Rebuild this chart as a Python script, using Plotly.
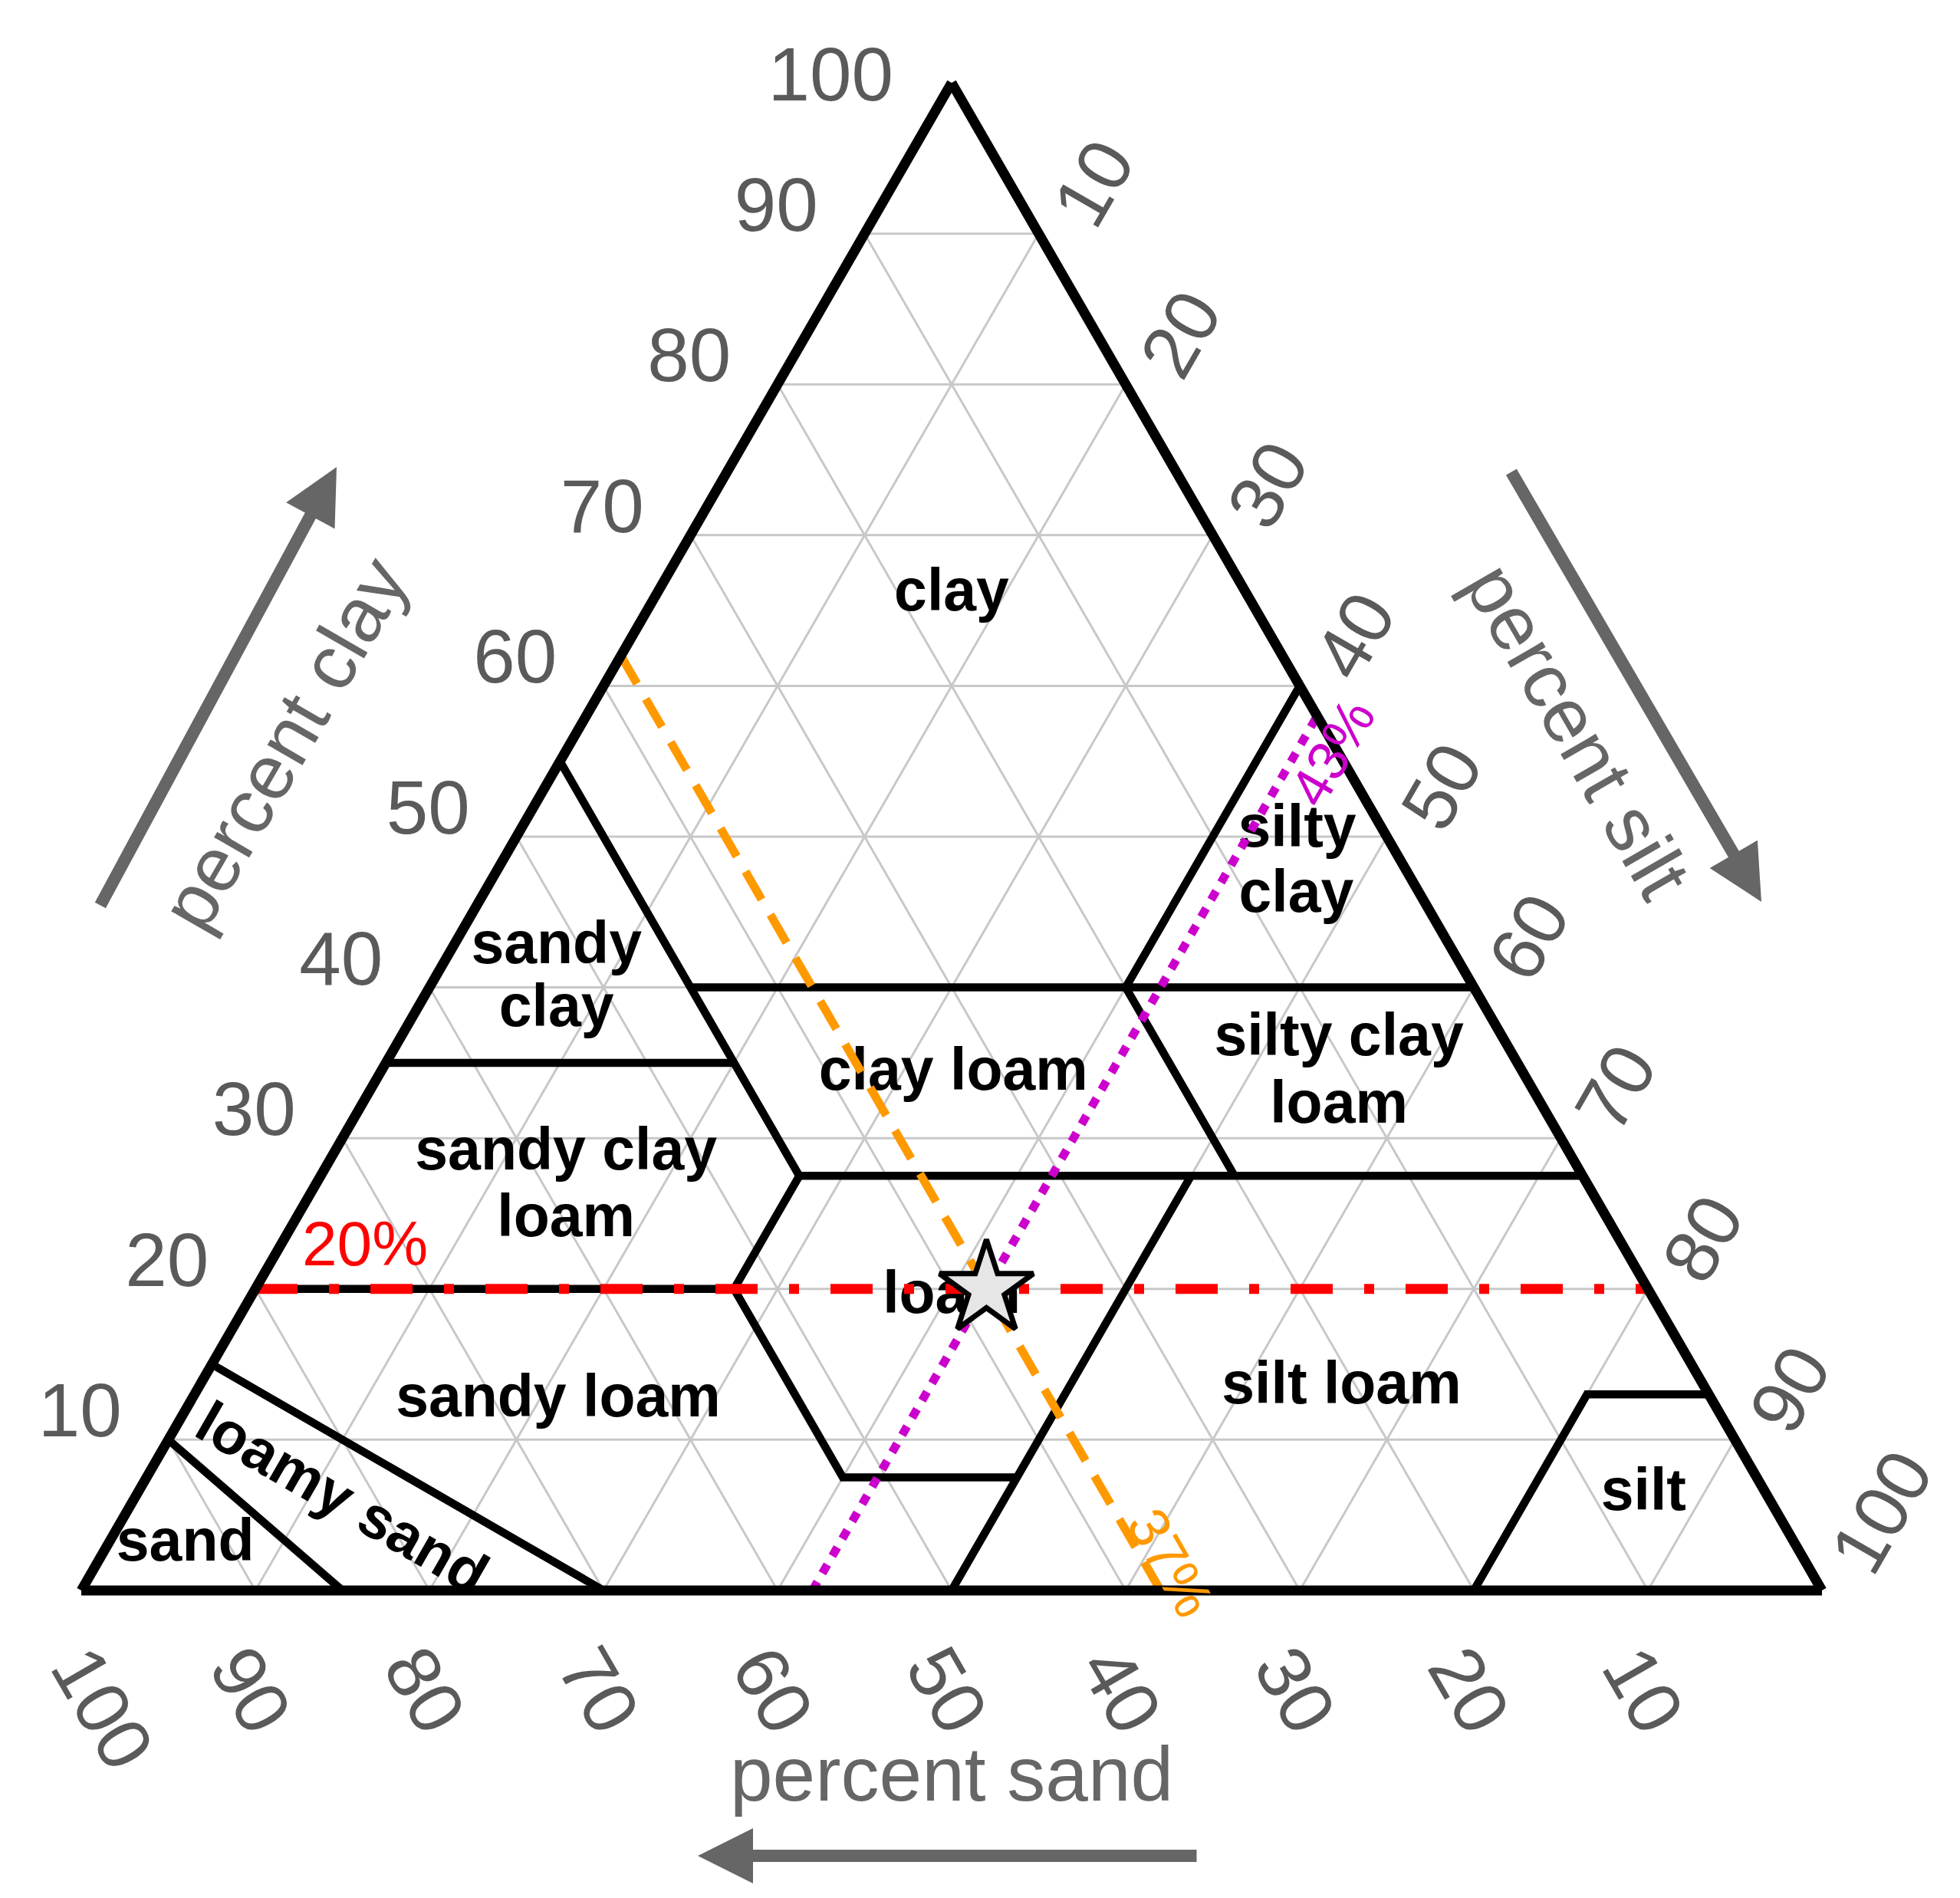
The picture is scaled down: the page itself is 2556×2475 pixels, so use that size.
import plotly.graph_objects as go

W, H = 2556, 2475
FONT = "Liberation Sans, Arial, sans-serif"

# ---------------- data ----------------
tick_vals = [10, 20, 30, 40, 50, 60, 70, 80, 90, 100]
tick_text = ["10", "20", "30", "40", "50", "60", "70", "80", "90", "100"]
grid_vals = [10, 20, 30, 40, 50, 60, 70, 80, 90]

# texture-class boundary polylines, vertices as (clay, sand, silt) in %
clay_lower_left = [(55, 45, 0), (40, 45, 15), (35, 45, 20), (27.5, 45, 27.5)]
clay_bottom = [(40, 45, 15), (40, 20, 40), (40, 0, 60)]
silty_clay_left = [(60, 0, 40), (40, 20, 40), (27.5, 20, 52.5)]
sandy_clay_bottom = [(35, 65, 0), (35, 45, 20)]
clay_loam_bottom = [(27.5, 45, 27.5), (27.5, 0, 72.5)]
sandy_clay_loam_right = [(27.5, 45, 27.5), (20, 52.5, 27.5)]
sandy_clay_loam_bottom = [(20, 80, 0), (20, 52.5, 27.5)]
loam_left = [(20, 52.5, 27.5), (7.5, 52.5, 40), (7.5, 42.5, 50)]
silt_loam_left = [(0, 50, 50), (7.5, 42.5, 50), (27.5, 22.5, 50)]
loamy_sand_top = [(15, 85, 0), (0, 70, 30)]
sand_top = [(10, 90, 0), (0, 85, 15)]
silt_top = [(0, 20, 80), (13, 7, 80), (13, 0, 87)]

boundaries = [clay_lower_left, clay_bottom, silty_clay_left, sandy_clay_bottom,
              clay_loam_bottom, sandy_clay_loam_right, sandy_clay_loam_bottom,
              loam_left, silt_loam_left, loamy_sand_top, sand_top, silt_top]

# class labels (one entry per text line)
label_text = ["clay", "sandy", "clay", "clay loam", "silty", "clay", "silty clay", "loam",
              "sandy clay", "loam", "loam", "sandy loam", "silt loam", "silt", "sand"]
label_clay = [66, 42.6, 38.4, 34.2, 50.3, 46.0, 36.5, 32.0, 28.9, 24.5, 19.4, 12.5, 13.4, 6.3, 2.95]
label_sand = [17, 51.4, 53.5, 32.8, 5.0, 7.2, 9.5, 11.75, 57.7, 59.9, 40.3, 66.35, 20.9, 7.1, 92.55]
label_silt = [17, 6.0, 8.1, 33.0, 44.7, 46.8, 54.0, 56.25, 13.4, 15.6, 40.3, 21.15, 65.7, 86.6, 4.5]

# sample soil
sample_clay, sample_sand, sample_silt = 20, 38, 42

# guide lines through the sample
clay_guide = [(20, 80, 0), (20, -1, 81)]
sand_guide = [(62, 38, 0), (0, 38, 62)]
silt_guide = [(0, 58, 42), (59, -1, 42)]

clay_pct_label = "20%"
sand_pct_label = "37%"
silt_pct_label = "43%"

# ---------------- figure ----------------
fig = go.Figure()


def tern_line(pts, color, width, dash="solid", clip=True):
    return go.Scatterternary(
        a=[p[0] for p in pts], b=[p[1] for p in pts], c=[p[2] for p in pts],
        mode="lines", line=dict(color=color, width=width, dash=dash),
        cliponaxis=clip, hoverinfo="skip", showlegend=False)


# 10 % grid (constant clay, sand and silt lines)
for v in grid_vals:
    fig.add_trace(tern_line([(v, 100 - v, 0), (v, 0, 100 - v)], "#c8c8c8", 3))
    fig.add_trace(tern_line([(0, v, 100 - v), (100 - v, v, 0)], "#c8c8c8", 3))
    fig.add_trace(tern_line([(0, 100 - v, v), (100 - v, 0, v)], "#c8c8c8", 3))

for seg in boundaries:
    fig.add_trace(tern_line(seg, "black", 10.5))

fig.add_trace(go.Scatterternary(
    a=label_clay, b=label_sand, c=label_silt, text=label_text, mode="text",
    textposition="middle center",
    textfont=dict(family=FONT, size=77, color="black", weight="bold"),
    hoverinfo="skip", showlegend=False))

fig.add_trace(tern_line(clay_guide, "#ff0000", 13, "55px,41px,13px,41px", clip=False))
fig.add_trace(tern_line(sand_guide, "#ff9900", 11, "42px,23px", clip=False))
fig.add_trace(tern_line(silt_guide, "#cc00cc", 11, "13px,13px", clip=False))

fig.add_trace(go.Scatterternary(
    a=[22.6], b=[72.4], c=[5.0], text=[clay_pct_label], mode="text",
    textposition="middle center",
    textfont=dict(family=FONT, size=82, color="#ff0000"),
    cliponaxis=False, hoverinfo="skip", showlegend=False))

fig.add_trace(go.Scatterternary(
    a=[sample_clay], b=[sample_sand], c=[sample_silt], mode="markers",
    marker=dict(symbol="star", size=92, color="#e6e6e6",
                line=dict(color="black", width=7)),
    cliponaxis=False, hoverinfo="skip", showlegend=False))


def tick_positions(shift):
    # labels sit a little further along each edge than their grid line
    return [v + shift if v < 100 else v for v in tick_vals]


axis_common = dict(
    tickmode="array", ticktext=tick_text,
    tickcolor="rgba(0,0,0,0)",
    tickfont=dict(family=FONT, size=98, color="#5a5a5a"),
    showline=True, linecolor="black", linewidth=13,
    showgrid=False, min=0, title=dict(text=""))

fig.update_layout(
    width=W, height=H,
    margin=dict(l=0, r=0, t=0, b=0),
    paper_bgcolor="white",
    showlegend=False,
    ternary=dict(
        sum=100,
        bgcolor="white",
        domain=dict(x=[98 / W, 2368 / W], y=[1 - 2067 / H, 1 - 99 / H]),
        aaxis=dict(axis_common, tickvals=tick_positions(1.36), tickangle=0,
                   ticks="outside", ticklen=60),
        baxis=dict(axis_common, tickvals=tick_positions(0.88), tickangle=60, ticks=""),
        caxis=dict(axis_common, tickvals=tick_positions(0.67), tickangle=-60,
                   ticks="outside", ticklen=15),
    ),
)


def px(xp, yp):
    return xp / W, 1 - yp / H


def label(xp, yp, text, angle, font):
    x, y = px(xp, yp)
    return dict(x=x, y=y, xref="paper", yref="paper", text=text, textangle=angle,
                showarrow=False, xanchor="center", yanchor="middle", font=font)


annotations = [
    label(439, 1945, "loamy sand", 30,
          dict(family=FONT, size=77, color="black", weight="bold")),
    label(1518, 2030, sand_pct_label, 60, dict(family=FONT, size=74, color="#ff9900")),
    label(1729, 973, silt_pct_label, -60, dict(family=FONT, size=73, color="#cc00cc")),
    label(362, 962, "percent clay", -60, dict(family=FONT, size=100, color="#666666")),
    label(2050, 945, "percent silt", 60, dict(family=FONT, size=100, color="#666666")),
    label(1233, 2305, "percent sand", 0, dict(family=FONT, size=100, color="#666666")),
]
# direction arrows (tip, tail)
for (tx, ty), (sx, sy) in [((431, 601), (122, 1174)),
                           ((2289, 1168), (1962, 606)),
                           ((902, 2412), (1554, 2412))]:
    x, y = px(tx, ty)
    annotations.append(dict(x=x, y=y, xref="paper", yref="paper", text="",
                            showarrow=True, ax=sx - tx, ay=sy - ty,
                            arrowhead=2, arrowsize=0.9, arrowwidth=16,
                            arrowcolor="#666666", standoff=0))
fig.update_layout(annotations=annotations)

fig.write_html("out.html")
